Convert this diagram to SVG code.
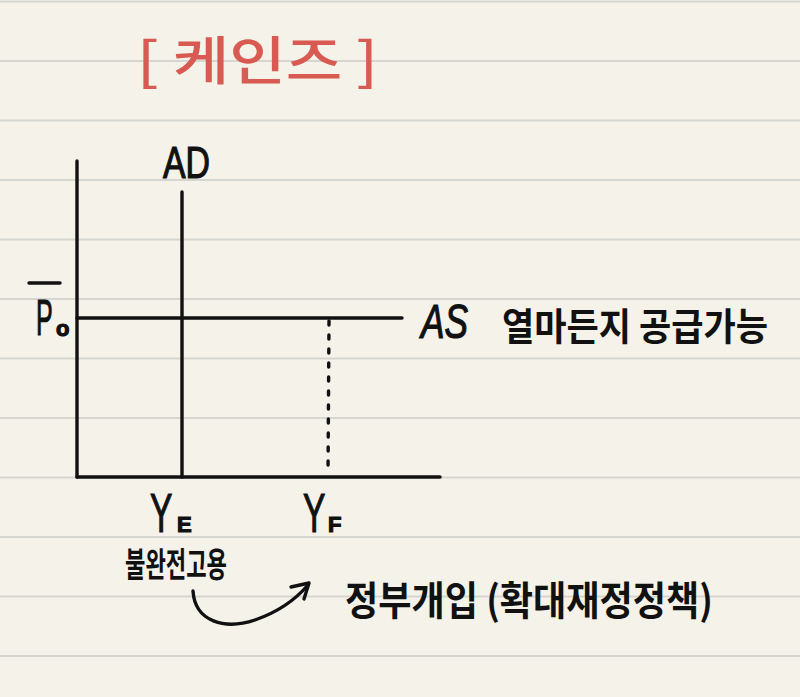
<svg xmlns="http://www.w3.org/2000/svg" width="800" height="697" viewBox="0 0 800 697">
  <style>
    .rule { stroke: #d6d6d1; stroke-width: 2; }
    .ink { stroke: #111; stroke-width: 3.4; fill: none; stroke-linecap: round; stroke-linejoin: round; }
    .lat { font-family: "Liberation Sans", "DejaVu Sans", sans-serif; fill: #111; stroke: #111; stroke-width: 1.2; }
    .sub { font-size: 22px; font-weight: bold; }
    .kor { font-family: "Noto Sans CJK KR", "Noto Sans", sans-serif; fill: #111; font-weight: 700; }
  </style>
  <rect width="800" height="697" fill="#f4f2e9"/>
  <g id="paper-lines">
    <line class="rule" x1="0" y1="1.5" x2="800" y2="1.5"/>
    <line class="rule" x1="0" y1="61" x2="800" y2="61"/>
    <line class="rule" x1="0" y1="120.5" x2="800" y2="120.5"/>
    <line class="rule" x1="0" y1="180" x2="800" y2="180"/>
    <line class="rule" x1="0" y1="239.5" x2="800" y2="239.5"/>
    <line class="rule" x1="0" y1="299" x2="800" y2="299"/>
    <line class="rule" x1="0" y1="358.5" x2="800" y2="358.5"/>
    <line class="rule" x1="0" y1="418" x2="800" y2="418"/>
    <line class="rule" x1="0" y1="477.5" x2="800" y2="477.5"/>
    <line class="rule" x1="0" y1="537" x2="800" y2="537"/>
    <line class="rule" x1="0" y1="596.5" x2="800" y2="596.5"/>
    <line class="rule" x1="0" y1="656" x2="800" y2="656"/>
  </g>
  <g id="title">
    <text x="137" y="80" font-family="Noto Sans CJK KR, Noto Sans, sans-serif" font-size="52" font-weight="500" fill="#d85a52" textLength="241" lengthAdjust="spacingAndGlyphs">[ 케인즈 ]</text>
  </g>
  <g id="axes">
    <line class="ink" x1="77" y1="161" x2="77" y2="477"/>
    <line class="ink" x1="77" y1="477" x2="440" y2="477"/>
  </g>
  <g id="ad-curve">
    <line class="ink" x1="182" y1="192" x2="182" y2="477"/>
    <text class="lat" x="163" y="178" font-size="44" textLength="47" lengthAdjust="spacingAndGlyphs">AD</text>
  </g>
  <g id="as-curve">
    <line class="ink" x1="77" y1="318" x2="402" y2="318"/>
    <text class="lat" x="421" y="338" font-size="48" font-style="italic" textLength="47" lengthAdjust="spacingAndGlyphs">AS</text>
    <text class="kor" x="502" y="340" font-size="38" textLength="266" lengthAdjust="spacingAndGlyphs">열마든지 공급가능</text>
  </g>
  <g id="p0-label">
    <line class="ink" x1="29" y1="283" x2="60" y2="283" stroke-width="3.6"/>
    <text class="lat" transform="translate(36,335) scale(0.5,1)" font-size="50" stroke-width="2">P</text>
    <text class="lat sub" x="56" y="336">o</text>
  </g>
  <g id="yf-guide">
    <line class="ink" x1="329" y1="321" x2="328" y2="474" stroke-width="3.6" stroke-dasharray="4 10"/>
  </g>
  <g id="ye-label">
    <text class="lat" transform="translate(150,532) scale(0.6,1)" font-size="56" stroke-width="2">Y</text>
    <text class="lat sub" x="177" y="532" font-size="22">E</text>
    <text class="kor" x="125" y="577" font-size="34" textLength="102" lengthAdjust="spacingAndGlyphs">불완전고용</text>
  </g>
  <g id="yf-label">
    <text class="lat" transform="translate(303,532) scale(0.6,1)" font-size="56" stroke-width="2">Y</text>
    <text class="lat sub" x="328" y="532">F</text>
  </g>
  <g id="policy">
    <text class="kor" x="345" y="615" font-size="40" textLength="368" lengthAdjust="spacingAndGlyphs">정부개입 (확대재정정책)</text>
  </g>
  <g id="connectors">
    <path class="ink" d="M193,591 C195,622 225,630 255,620 C278,612 296,599 308,585"/>
    <polyline class="ink" points="291,587 309,583 304,599"/>
  </g>
</svg>
